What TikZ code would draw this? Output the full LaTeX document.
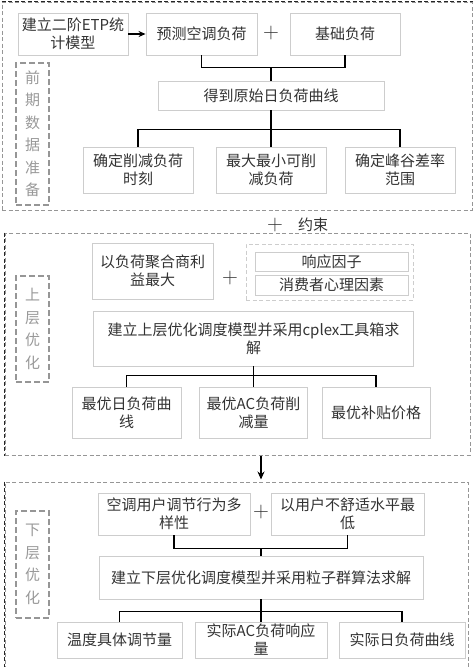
\documentclass[tikz,border=0pt]{standalone}
\usepackage{fontspec}
\newfontfamily\cjk{Noto Sans CJK SC}
\usetikzlibrary{arrows.meta}
\definecolor{boxgray}{RGB}{205,205,205}
\definecolor{dashgray}{RGB}{150,150,150}

\begin{document}
\begin{tikzpicture}[x=1pt,y=-1pt,
	blk/.style={draw=boxgray,line width=0.9pt,font=\cjk\fontsize{15}{18}\selectfont,text=black!80,align=center,inner sep=0pt},
	lab/.style={draw=dashgray,dash pattern=on 6pt off 3pt,line width=1.3pt,font=\cjk\fontsize{15}{22.5}\selectfont,text=black!40,align=center,inner sep=0pt,minimum width=33pt},
	sec/.style={draw=dashgray,dash pattern=on 4pt off 2.5pt,line width=1pt,inner sep=0pt},
	edge/.style={draw=black!85,dash pattern=on 4pt off 2.5pt,line width=1.4pt},
	lnk/.style={draw=black,line width=1.3pt},
	plus/.style={font=\fontsize{22}{22}\selectfont,text=black!80}]
		\useasboundingbox (0,0) rectangle (474,667);
		\coordinate (c_secA) at (237,106);
		\coordinate (c_secB) at (237.5,344);
		\coordinate (c_secC) at (236.5,577);
		\coordinate (c_etp) at (73,34);
		\coordinate (c_ycac) at (201.5,34);
		\coordinate (c_jc) at (345,34);
		\coordinate (c_ys) at (271,95.5);
		\coordinate (c_qd1) at (138,170);
		\coordinate (c_qd2) at (271,170);
		\coordinate (c_qd3) at (400,170);
		\coordinate (c_ly) at (152.5,271);
		\coordinate (c_grp) at (329.5,272);
		\coordinate (c_sc) at (253.5,338.5);
		\coordinate (c_zy1) at (126.5,412.5);
		\coordinate (c_zy2) at (253.5,412.5);
		\coordinate (c_zy3) at (376,412.5);
		\coordinate (c_ky) at (174,514);
		\coordinate (c_yh) at (347.5,514);
		\coordinate (c_xc) at (261,577.5);
		\coordinate (c_sj1) at (119.5,640);
		\coordinate (c_sj2) at (261,640);
		\coordinate (c_sj3) at (402,640);

		\node[sec,minimum width=470pt,minimum height=208pt] (secA) at (c_secA) {};
		\node[sec,minimum width=465pt,minimum height=222pt] (secB) at (c_secB) {};
		\node[sec,minimum width=463pt,minimum height=190pt] (secC) at (c_secC) {};
		\draw[edge] (secA.north west) -- (secA.north east);
		\draw[edge] (secB.north west) -- (secB.south west);
		\draw[edge] (secC.north west) -- (secC.south west);

		\node[lab,minimum height=142pt] (labA) at (32.5,134) {前\\期\\数\\据\\准\\备};
		\node[lab,minimum height=106pt] (labB) at (32.5,329) {上\\层\\优\\化};
		\node[lab,minimum height=107pt] (labC) at (32.5,564.5) {下\\层\\优\\化};

		\node[blk,minimum width=110pt,minimum height=42pt] (etp) at (c_etp) {建立二阶ETP统\\计模型};
		\node[blk,minimum width=111pt,minimum height=42pt] (ycac) at (c_ycac) {预测空调负荷};
		\node[plus] (plusA) at (271,33) {+};
		\node[blk,minimum width=110pt,minimum height=42pt] (jc) at (c_jc) {基础负荷};
		\node[blk,minimum width=226pt,minimum height=29pt] (ys) at (c_ys) {得到原始日负荷曲线};
		\node[blk,minimum width=110pt,minimum height=46pt] (qd1) at (c_qd1) {确定削减负荷\\时刻};
		\node[blk,minimum width=110pt,minimum height=46pt] (qd2) at (c_qd2) {最大最小可削\\减负荷};
		\node[blk,minimum width=110pt,minimum height=46pt] (qd3) at (c_qd3) {确定峰谷差率\\范围};

		\node[plus] (plusY) at (275,225) {+};
		\node[font=\cjk\fontsize{15}{18}\selectfont,text=black!80] (yueshu) at (313,225) {约束};

		\node[blk,minimum width=121pt,minimum height=56pt] (ly) at (c_ly) {以负荷聚合商利\\益最大};
		\node[plus] (plusB) at (230,278) {+};
		\node[sec,draw=boxgray,minimum width=167pt,minimum height=56pt] (grp) at (c_grp) {};
		\node[blk,minimum width=153pt,minimum height=19pt] (xy) at (331.5,261.5) {响应因子};
		\node[blk,minimum width=153pt,minimum height=20pt] (xf) at (331.5,285) {消费者心理因素};
		\node[blk,minimum width=320pt,minimum height=55pt] (sc) at (c_sc) {建立上层优化调度模型并采用cplex工具箱求\\解};
		\node[blk,minimum width=109pt,minimum height=51pt] (zy1) at (c_zy1) {最优日负荷曲\\线};
		\node[blk,minimum width=108pt,minimum height=51pt] (zy2) at (c_zy2) {最优AC负荷削\\减量};
		\node[blk,minimum width=108pt,minimum height=51pt] (zy3) at (c_zy3) {最优补贴价格};

		\node[blk,minimum width=152pt,minimum height=42pt] (ky) at (c_ky) {空调用户调节行为多\\样性};
		\node[plus] (plusC) at (261,512) {+};
		\node[blk,minimum width=153pt,minimum height=42pt] (yh) at (c_yh) {以用户不舒适水平最\\低};
		\node[blk,minimum width=324pt,minimum height=43pt] (xc) at (c_xc) {建立下层优化调度模型并采用粒子群算法求解};
		\node[blk,minimum width=125pt,minimum height=36pt] (sj1) at (c_sj1) {温度具体调节量};
		\node[blk,minimum width=132pt,minimum height=36pt] (sj2) at (c_sj2) {实际AC负荷响应\\量};
		\node[blk,minimum width=126pt,minimum height=36pt] (sj3) at (c_sj3) {实际日负荷曲线};

		\draw[lnk,-{Stealth[length=7pt,width=6pt]}] (etp) -- (ycac);
		\draw[lnk] (ycac.south) -- ++(0,12) -| (jc.south);
		\draw[lnk] (ys.north) -- ++(0,-14);
		\draw[lnk] (ys.south) -- (qd2.north);
		\draw[lnk] (qd1.north) -- ++(0,-17) -| (qd3.north);
		\draw[lnk] (sc.south) -- (zy2.north);
		\draw[lnk] (zy1.north) -- ++(0,-11) -| (zy3.north);
		\draw[lnk,shorten >=2pt,-{Stealth[length=8pt,width=7pt]}] (secB.south -| xc.north) -- (secC.north -| xc.north);
		\draw[lnk] (ky.south) -- ++(0,13) -| (yh.south);
		\draw[lnk] (xc.north) -- ++(0,-8);
		\draw[lnk] (xc.south) -- (sj2.north);
		\draw[lnk] (sj1.north) -- ++(0,-10) -| (sj3.north);
	\end{tikzpicture}
\end{document}
